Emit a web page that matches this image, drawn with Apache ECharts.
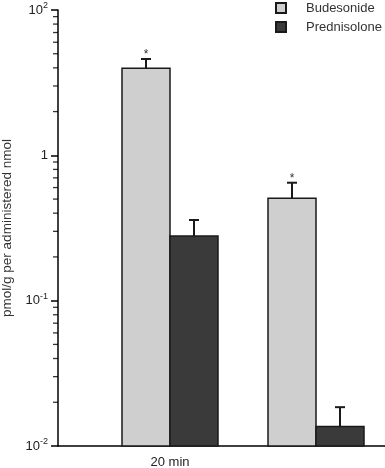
<!DOCTYPE html>
<html><head><meta charset="utf-8">
<script src="https://cdn.jsdelivr.net/npm/echarts@6/dist/echarts.min.js"></script>
<style>html,body{margin:0;padding:0;background:#fff}#c{width:385px;height:468px}</style>
</head><body><div id="c"></div>
<script>
const categories = ['20 min', ''];
const budesonide = [3.97, 0.506];
const budesonideUpper = [4.6, 0.648];
const prednisolone = [0.279, 0.0136];
const prednisoloneUpper = [0.359, 0.0185];
const budesonideStars = ['*', '*'];
const prednisoloneStars = ['', ''];
const yTickLabels = {'-2': '10{s|-2}', '-1': '10{s|-1}', '0': '1', '1': '10{s|2}'};
const minorTickValues = [0.02,0.03,0.04,0.05,0.06,0.07,0.08,0.09,
  0.2,0.3,0.4,0.5,0.6,0.7,0.8,0.9, 2,3,4,5,6,7,8,9];
const axisMin = 0.01, axisMax = 10;

const FONT = "'Liberation Sans', Arial, sans-serif";
const chart = echarts.init(document.getElementById('c'), null, {renderer: 'canvas'});

function barSeries(name, vals, uppers, stars, offset, fill) {
  return {
    type: 'custom', name: name, xAxisIndex: 1, yAxisIndex: 1, silent: true, z: 5,
    itemStyle: {color: fill, borderColor: '#1a1a1a', borderWidth: 1.5},
    data: vals.map((v, i) => [i, v, uppers[i]]),
    renderItem: function (params, api) {
      const i = api.value(0);
      const b0 = api.coord([i, axisMin]);
      const b = api.coord([i, api.value(1)]);
      const t = api.coord([i, api.value(2)]);
      const x = b[0] + offset;
      const st = stars[params.dataIndex];
      const children = [
        {type: 'rect', shape: {x: x - 24, y: b[1], width: 48, height: b0[1] - b[1]},
         style: {fill: fill, stroke: '#1a1a1a', lineWidth: 1.5}},
        {type: 'line', shape: {x1: x, y1: b[1], x2: x, y2: t[1]}, style: {stroke: '#1a1a1a', lineWidth: 2}},
        {type: 'line', shape: {x1: x - 5, y1: t[1], x2: x + 5, y2: t[1]}, style: {stroke: '#1a1a1a', lineWidth: 2}}
      ];
      if (st) children.push({type: 'text', style: {text: st, x: x, y: t[1] + 2, align: 'center', verticalAlign: 'bottom', fontSize: 12, fontFamily: FONT, fill: '#333'}});
      return {type: 'group', children: children};
    }
  };
}

const option = {
  backgroundColor: '#fff',
  animation: false,
  textStyle: {fontFamily: FONT},
  legend: {
    orient: 'vertical', left: 275, top: 1, padding: 0, itemWidth: 10, itemHeight: 10, itemGap: 5,
    icon: 'rect', data: ['Budesonide', 'Prednisolone'],
    textStyle: {fontSize: 13, color: '#333', fontFamily: FONT, padding: [0, 0, 0, 15], lineHeight: 14}
  },
  grid: [
    {left: 58, right: 0, top: 10, bottom: 22, outerBoundsMode: 'none', containLabel: false},
    {left: 97, right: -4, top: 10, bottom: 22, outerBoundsMode: 'none', containLabel: false}
  ],
  xAxis: [
    {gridIndex: 0, type: 'value', min: 0, max: 1, axisLine: {show: true, onZero: false, lineStyle: {color: '#000', width: 1.5}},
     axisTick: {show: false}, axisLabel: {show: false}, splitLine: {show: false}},
    {gridIndex: 1, type: 'category', data: categories, axisLine: {show: false}, axisTick: {show: false},
     axisLabel: {margin: 10, fontSize: 13, color: '#222', fontFamily: FONT}, splitLine: {show: false}}
  ],
  yAxis: [
    {gridIndex: 0, type: 'log', min: axisMin, max: axisMax, logBase: 10,
     axisLine: {show: true, lineStyle: {color: '#000', width: 1.5}},
     axisTick: {show: true, length: 7, lineStyle: {color: '#000', width: 1.5}},
     splitLine: {show: false},
     axisLabel: {margin: 10, fontSize: 13, color: '#222', fontFamily: FONT,
       formatter: function (v) { return yTickLabels[String(Math.round(Math.log10(v)))] || ''; },
       rich: {s: {fontSize: 9, fontFamily: FONT, color: '#222', padding: [0, 0, 8, 0]}}},
     name: 'pmol/g per administered nmol', nameLocation: 'middle', nameGap: 44,
     nameTextStyle: {fontSize: 13.5, color: '#333', fontFamily: FONT}},
    {gridIndex: 1, type: 'log', min: axisMin, max: axisMax, show: false}
  ],
  series: [
    {type: 'scatter', name: 'minor', xAxisIndex: 0, yAxisIndex: 0, silent: true, clip: false,
     data: minorTickValues.map(v => [0, v]), symbol: 'rect', symbolSize: [5, 1.3], symbolOffset: [-2.5, 0],
     itemStyle: {color: '#000'}},
    barSeries('Budesonide', budesonide, budesonideUpper, budesonideStars, -24, '#cfcfcf'),
    barSeries('Prednisolone', prednisolone, prednisoloneUpper, prednisoloneStars, 24, '#3a3a3a')
  ]
};
chart.setOption(option);
</script></body></html>
